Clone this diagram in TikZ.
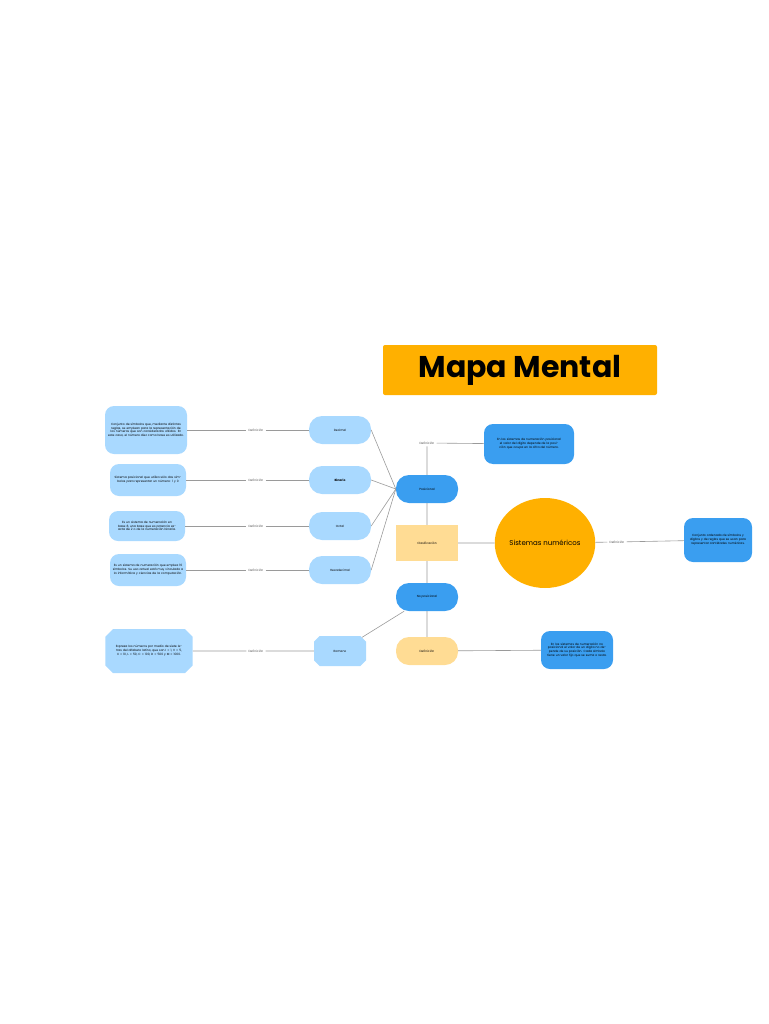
\documentclass[tikz,border=0pt]{standalone}
\usepackage{fontspec}
\setmainfont{Poppins}
\usetikzlibrary{shapes.geometric,shapes.misc}
\definecolor{orng}{HTML}{FFB000}
\definecolor{blu}{HTML}{3A9EF0}
\definecolor{lblu}{HTML}{A9D9FF}
\definecolor{lyel}{HTML}{FFDC94}
\definecolor{lin}{HTML}{9A9A9A}
\begin{document}
\begin{tikzpicture}[x=1pt,y=-1pt,
 base/.style={align=center,inner sep=1pt,font=\fontsize{3}{3.8}\selectfont},
 pill/.style={base,rounded corners=13pt,minimum height=28pt,minimum width=62pt},
 bluep/.style={pill,fill=blu},
 lbluep/.style={pill,fill=lblu},
 tbox/.style={base,rounded corners=9pt,text width=#1},
 lbl/.style={base,text=black!70,fill=white,inner sep=2pt},
 con/.style={draw=lin,line width=0.6pt}]
\useasboundingbox (0,0) rectangle (768,1024);
% title
\node[fill=orng,rounded corners=2pt,minimum width=274pt,minimum height=50pt,font=\bfseries\fontsize{30}{32}\selectfont] (title) at (520,370) {Mapa Mental};
% center
\node[ellipse,fill=orng,minimum width=88pt,minimum height=90pt,font=\fontsize{7}{8}\selectfont,inner sep=0pt] (sn) at (545,543) {Sistemas numéricos};
\node[lbl] (d0) at (617,542) {Definición};
\node[tbox=66pt,fill=blu,minimum height=44pt] (b0) at (718,540) {Conjunto ordenado de símbolos y dígitos y de reglas que se usan para representar cantidades numéricas.};
\node[base,fill=lyel,minimum width=62pt,minimum height=36pt] (cl) at (427,543) {Clasificación};
\node[bluep] (po) at (427,489) {Posicional};
\node[bluep] (np) at (427,597) {No posicional};
\node[pill,fill=lyel] (dn) at (427,651) {Definición};
\node[lbl] (dp) at (427,443) {Definición};
\node[tbox=88pt,fill=blu,minimum height=40pt] (bp) at (529,444) {En los sistemas de numeración posicional el valor del dígito depende de la posición que ocupa en la cifra del número.};
\node[tbox=70pt,fill=blu,minimum height=38pt] (bn) at (577,650) {En los sistemas de numeración no posicional el valor de un dígito no depende de su posición. Cada símbolo tiene un valor fijo que se suma o resta.};
% left branch
\node[lbluep] (dec) at (340,430) {Decimal};
\node[lbluep,font=\bfseries\fontsize{3}{3.8}\selectfont] (bin) at (340,480) {Binario};
\node[lbluep] (oct) at (340,526) {Octal};
\node[lbluep] (hex) at (340,570) {Hexadecimal};
\node[base,fill=lblu,chamfered rectangle,chamfered rectangle xsep=6pt,minimum width=52pt,minimum height=30pt] (rom) at (340,651) {Romano};
\foreach \n/\y in {dec/430,bin/480,oct/526,hex/570,rom/651}{
 \node[lbl] (l\n) at (256,\y) {Definición};}
\node[tbox=80pt,fill=lblu,minimum height=48pt] (tdec) at (146,430) {Conjunto de símbolos que, mediante distintas reglas, se emplean para la representación de los números que son considerados válidos. En este caso, el número diez como base es utilizado.};
\node[tbox=74pt,fill=lblu,minimum height=32pt] (tbin) at (148,480) {Sistema posicional que utiliza sólo dos símbolos para representar un número: 1 y 0};
\node[tbox=74pt,fill=lblu,minimum height=30pt] (toct) at (147,526) {Es un sistema de numeración en base 8, una base que es potencia exacta de 2 o de la numeración binaria.};
\node[tbox=74pt,fill=lblu,minimum height=32pt] (thex) at (148,570) {Es un sistema de numeración que emplea 16 símbolos. Su uso actual está muy vinculado a la informática y ciencias de la computación.};
\node[base,text width=78pt,fill=lblu,chamfered rectangle,chamfered rectangle ysep=4pt,minimum height=44pt] (trom) at (149,651) {Expresa los números por medio de siete letras del alfabeto latino, que son I = 1, V = 5, X = 10, L = 50, C = 100, D = 500 y M = 1000.};
% connectors
\foreach \n in {dec,bin,oct,hex,rom}{
 \draw[con] (t\n) -- (l\n) -- (\n);}
\foreach \n in {dec,bin,oct,hex}{\draw[con] (\n.east) -- (po.west);}
\draw[con] (rom) -- (np);
\draw[con] (dp) -- (po) -- (cl) -- (np) -- (dn) -- (bn);
\draw[con] (dp) -- (bp);
\draw[con] (cl) -- (sn) -- (d0) -- (b0);
\end{tikzpicture}
\end{document}
